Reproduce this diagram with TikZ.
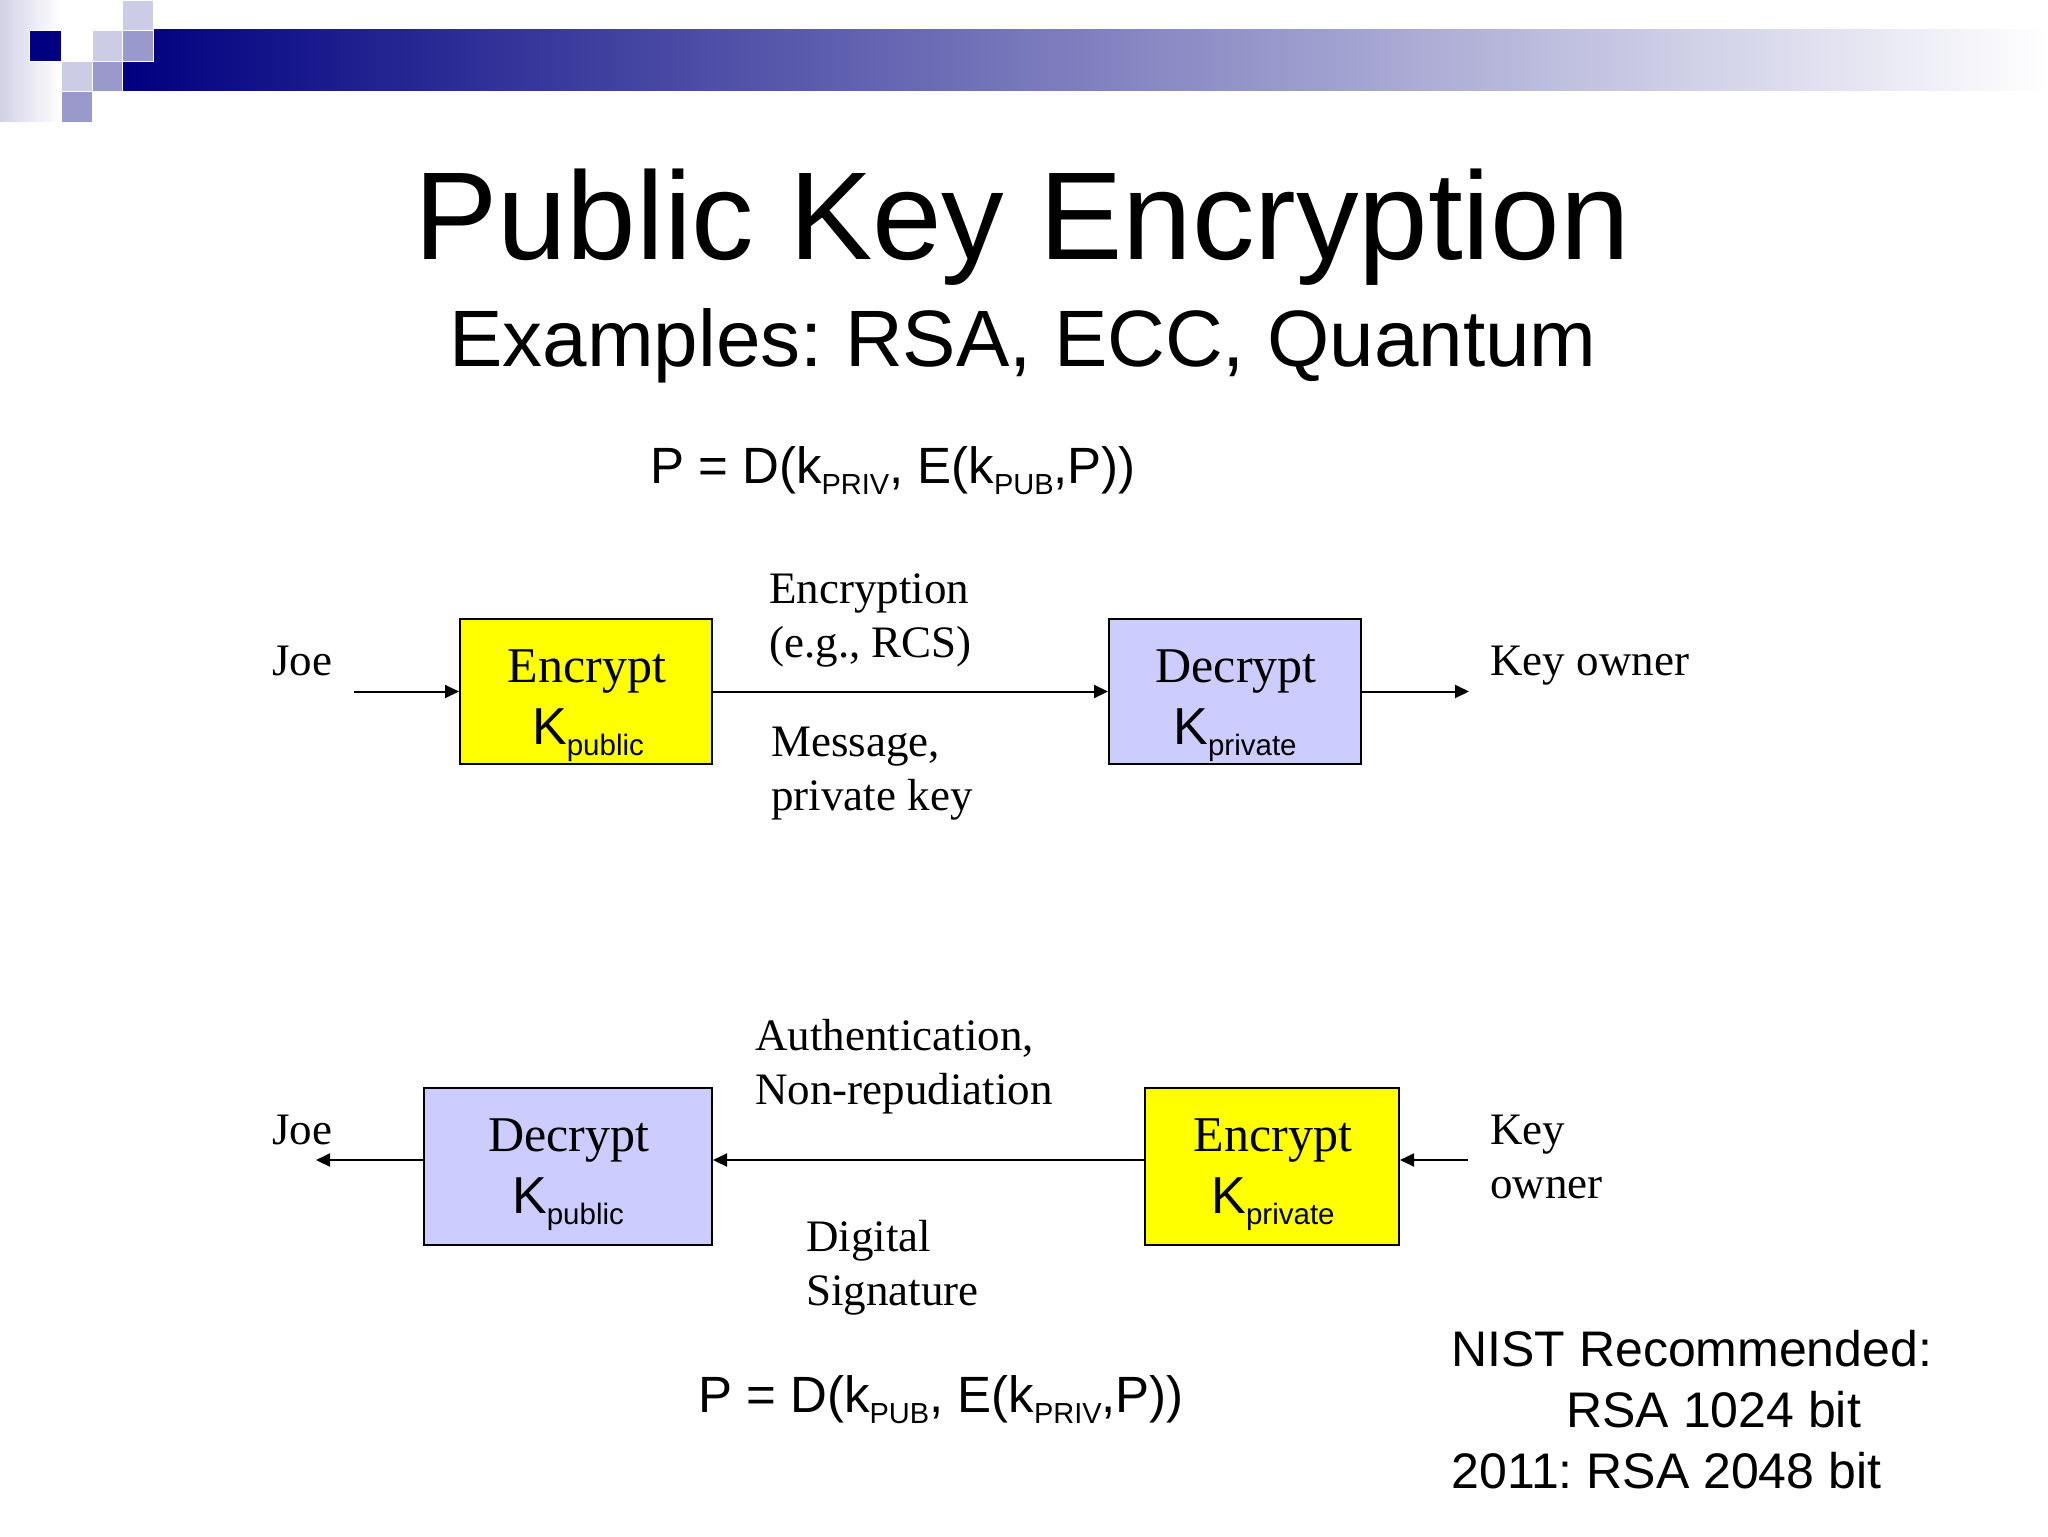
\documentclass[tikz,border=0pt]{standalone}
\usepackage{fontspec}
\setmainfont{Liberation Serif}
\newfontfamily\arial{Liberation Sans}
\usetikzlibrary{arrows.meta,calc}
\frenchspacing
\definecolor{navy}{RGB}{0,0,128}
\definecolor{sqlight}{RGB}{204,204,230}
\definecolor{sqmid}{RGB}{153,153,204}
\definecolor{sqfade}{RGB}{210,210,230}
\definecolor{encyellow}{RGB}{255,255,0}
\definecolor{declav}{RGB}{204,204,255}
\newcommand{\mysub}[1]{\raisebox{-5.5pt}{\fontsize{14.5}{17}\selectfont #1}}
\newcommand{\ksub}[1]{{\arial\fontsize{26}{30}\selectfont K\raisebox{-5.5pt}{\fontsize{14.75}{17}\selectfont #1}}}
\tikzset{
  sq/.style={draw=white, line width=0.4pt},
  cbox/.style={draw=black, line width=1pt, inner sep=0pt, minimum width=126pt, minimum height=72.5pt},
  wbox/.style={cbox, minimum width=144pt, minimum height=78.5pt},
  ebox/.style={cbox, minimum width=127pt, minimum height=78.5pt},
  boxtxt/.style={anchor=base, inner sep=0pt, font=\fontsize{25}{30}\selectfont},
  ktxt/.style={anchor=base, inner sep=0pt},
  lbl/.style={anchor=base west, inner sep=0pt, font=\fontsize{22.5}{27}\selectfont},
  arr/.style={line width=1pt, -{Triangle[length=7pt,width=6.5pt]}},
}
\begin{document}
\begin{tikzpicture}[x=0.5pt,y=-0.5pt]
\useasboundingbox (0,0) rectangle (2048,1536);
\fill[white] (0,0) rectangle (2048,1536);
% header decoration
\shade[left color=sqfade, right color=white] (0,0) rectangle (61,121);
\shade[left color=navy, right color=white] (122,30) rectangle (2048,91);
\fill[navy, sq] (29,30) rectangle (61,61);
\fill[sqlight, sq] (92,30) rectangle (122,61);
\fill[sqmid, sq] (122,30) rectangle (153,61);
\fill[sqlight, sq] (122,0) rectangle (153,30);
\fill[sqlight, sq] (61,61) rectangle (92,91);
\fill[sqmid, sq] (92,61) rectangle (122,91);
\fill[sqmid, sq] (61,91) rectangle (92,122);
% titles
\node[anchor=base, inner sep=0pt] (title) at (1022,259) {\arial\fontsize{62.5}{70}\selectfont Public Key Encryption};
\node[anchor=base, inner sep=0pt] (subtitle) at (1023,366) {\arial\fontsize{40}{48}\selectfont Examples: RSA, ECC, Quantum};
\node[anchor=base, inner sep=0pt] (f1) at (893,483) {\arial\fontsize{25.5}{30}\selectfont P = D(k\mysub{PRIV}, E(k\mysub{PUB},P))};
\node[anchor=base, inner sep=0pt] (f2) at (941,1412) {\arial\fontsize{25.5}{30}\selectfont P = D(k\mysub{PUB}, E(k\mysub{PRIV},P))};
% top row
\node[cbox, fill=encyellow] (enc1) at (586,691.5) {};
\node[boxtxt] (enc1a) at (587,682) {Encrypt};
\node[ktxt] (enc1b) at (588,744) {\ksub{public}};
\node[cbox, fill=declav] (dec1) at (1235,691.5) {};
\node[boxtxt] (dec1a) at (1236,682) {Decrypt};
\node[ktxt] (dec1b) at (1235,744) {\ksub{private}};
\coordinate (joe1) at (354,691.5);
\coordinate (own1) at (1469,691.5);
\node[lbl] (joe1t) at (272,675) {Joe};
\node[lbl] (own1t) at (1490,675) {Key owner};
\node[lbl] (encl) at (769,603) {\begin{tabular}[t]{@{}l@{}}Encryption\\(e.g., RCS)\end{tabular}};
\node[lbl] (msgl) at (771,756) {\begin{tabular}[t]{@{}l@{}}Message,\\private key\end{tabular}};
\draw[arr] (joe1) -- (enc1.west);
\draw[arr] (enc1.east) -- (dec1.west);
\draw[arr] (dec1.east) -- (own1);
% bottom row
\node[wbox, fill=declav] (dec2) at (568,1166.5) {};
\node[boxtxt] (dec2a) at (569,1151) {Decrypt};
\node[ktxt] (dec2b) at (568,1213) {\ksub{public}};
\node[ebox, fill=encyellow] (enc2) at (1272,1166.5) {};
\node[boxtxt] (enc2a) at (1273,1151) {Encrypt};
\node[ktxt] (enc2b) at (1273,1213) {\ksub{private}};
\coordinate (joe2) at (316,1160);
\coordinate (own2) at (1468,1160);
\node[lbl] (joe2t) at (272,1144) {Joe};
\node[lbl] (own2t) at (1490,1144) {\begin{tabular}[t]{@{}l@{}}Key\\owner\end{tabular}};
\node[lbl] (authl) at (755,1050) {\begin{tabular}[t]{@{}l@{}}Authentication,\\Non-repudiation\end{tabular}};
\node[lbl] (sigl) at (806,1251) {\begin{tabular}[t]{@{}l@{}}Digital\\Signature\end{tabular}};
\draw[arr] (enc2.west |- 0,1160) -- (dec2.east |- 0,1160);
\draw[arr] (own2) -- (enc2.east |- 0,1160);
\draw[arr] (dec2.west |- 0,1160) -- (joe2);
% NIST
\node[anchor=base west, inner sep=0pt] (nist) at (1451,1366) {\arial\fontsize{25}{30.5}\selectfont\begin{tabular}[t]{@{}l@{}}NIST Recommended:\\\hspace*{57.5pt}RSA 1024 bit\\2011: RSA 2048 bit\end{tabular}};
\end{tikzpicture}
\end{document}
